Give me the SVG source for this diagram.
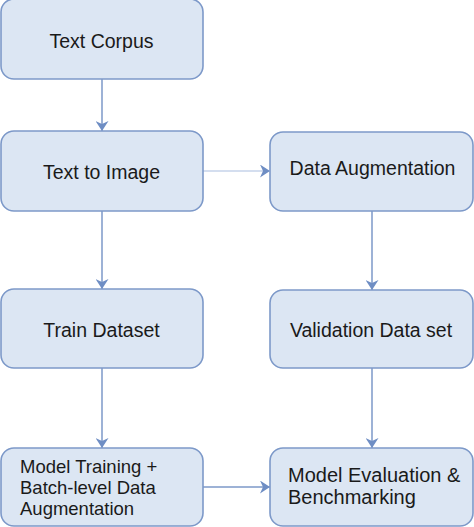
<svg xmlns="http://www.w3.org/2000/svg" width="474" height="527" viewBox="0 0 474 527">
<style>
.box{fill:#dce6f3;stroke:#7d99c9;stroke-width:1.6}
.t{font-family:"Liberation Sans",Arial,sans-serif;font-size:19.5px;fill:#1a1a1a;text-anchor:middle}
.tl{font-family:"Liberation Sans",Arial,sans-serif;fill:#1a1a1a}
.c{stroke:#7d99c9;stroke-width:1.5;fill:none;marker-end:url(#ah)}
</style>
<defs>
<marker id="ah" markerUnits="userSpaceOnUse" viewBox="0 0 10 13" refX="10" refY="6.5" markerWidth="10" markerHeight="13" orient="auto">
<path d="M0,0 L10,6.5 L0,13 L3,6.5 z" fill="#6f8ec4"/>
</marker>
</defs>
<rect width="474" height="527" fill="#ffffff"/>
<g id="connectors">
<line class="c" x1="102" y1="79" x2="102" y2="131"/>
<line class="c" x1="102" y1="211" x2="102" y2="289"/>
<line class="c" x1="102" y1="368" x2="102" y2="448"/>
<line class="c" x1="372" y1="211" x2="372" y2="290"/>
<line class="c" x1="372" y1="368" x2="372" y2="448"/>
<line class="c" x1="203" y1="171" x2="270" y2="171" style="stroke:#a9bde0;stroke-width:1.2"/>
<line class="c" x1="203" y1="487" x2="270" y2="487"/>
</g>
<g id="n1"><rect class="box" x="1" y="-1" width="202" height="80" rx="13"/><text class="t" x="101.5" y="48">Text Corpus</text></g>
<g id="n2"><rect class="box" x="1" y="131" width="202" height="80" rx="13"/><text class="t" x="101.5" y="179">Text to Image</text></g>
<g id="n3"><rect class="box" x="1" y="289" width="202" height="79" rx="13"/><text class="t" x="101.5" y="337">Train Dataset</text></g>
<g id="n4"><rect class="box" x="1" y="448" width="202" height="78" rx="13"/><text class="tl" style="font-size:18.5px" x="20" y="473">Model Training +</text><text class="tl" style="font-size:18.5px" x="20" y="494">Batch-level Data</text><text class="tl" style="font-size:18.5px" x="20" y="515">Augmentation</text></g>
<g id="n5"><rect class="box" x="270" y="132" width="203" height="79" rx="13"/><text class="t" x="372.5" y="175">Data Augmentation</text></g>
<g id="n6"><rect class="box" x="270" y="290" width="203" height="78" rx="13"/><text class="t" x="371" y="337">Validation Data set</text></g>
<g id="n7"><rect class="box" x="270" y="448" width="203" height="78" rx="13"/><text class="tl" style="font-size:20px" x="288" y="482">Model Evaluation &amp;</text><text class="tl" style="font-size:20px" x="288" y="503.5">Benchmarking</text></g>
</svg>
